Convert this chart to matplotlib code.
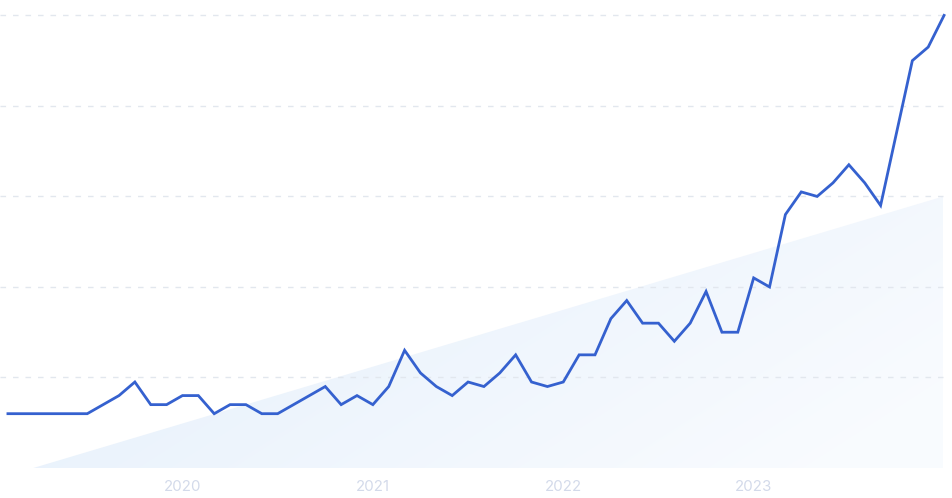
import numpy as np
import matplotlib
matplotlib.use("Agg")
import matplotlib.pyplot as plt
from matplotlib.patches import Polygon

# Monthly interest values, Feb 2019 .. Jan 2024 (scaled 0-100)
values = [12, 12, 12, 12, 12, 12, 14, 16, 19, 14, 14, 16,
          16, 12, 14, 14, 12, 12, 14, 16, 18, 14, 16, 14,
          18, 26, 21, 18, 16, 19, 18, 21, 25, 19, 18, 19,
          25, 25, 33, 37, 32, 32, 28, 32, 39, 30, 30, 42,
          40, 56, 61, 60, 63, 67, 63, 58, 74, 90, 93, 100]
tick_labels = ["2020", "2021", "2022", "2023"]
tick_index = [11, 23, 35, 47]   # January of each year
grid_levels = [20, 40, 60, 80, 100]

line_color = "#3561cf"
grid_color = "#e2e7ee"
label_color = "#d3daea"

fig = plt.figure(figsize=(9.52, 4.98), dpi=100)
ax = fig.add_axes([0, 30 / 498, 1, 468 / 498])
x = np.arange(len(values))
ax.set_xlim(-0.5, len(values) - 0.5)
ax.set_ylim(0, 103.4)

# background gradient triangle
x0, x1 = 1.6, 58.95
ytop = 60
H, W = 200, 400
gx = np.linspace(0, 1, W)[None, :]
gy = np.linspace(0, 1, H)[:, None]
t = np.clip(0.75 * gx + 0.35 * (1 - gy), 0, 1)
c0 = np.array([0.890, 0.935, 0.985])
c1 = np.array([0.975, 0.985, 0.998])
img = c0[None, None, :] * (1 - t[..., None]) + c1[None, None, :] * t[..., None]
im = ax.imshow(img, extent=[x0, x1, 0, ytop], origin="lower", aspect="auto",
               zorder=0, interpolation="bilinear")
tri = Polygon([[x0, 0], [x1, ytop], [x1, 0]], closed=True, transform=ax.transData,
              facecolor="none", edgecolor="none")
ax.add_patch(tri)
im.set_clip_path(tri)

for g in grid_levels:
    ax.plot([-0.5, 58.95], [g, g], color=grid_color, lw=1.0,
            dashes=(4, 5), zorder=1)

ax.plot(x, values, color=line_color, lw=2.0, solid_joinstyle="miter",
        zorder=3, clip_on=False)

for i, lab in zip(tick_index, tick_labels):
    ax.text(i, -4.2, lab, ha="center", va="center", fontsize=10.8,
            color=label_color, family=["Inter", "DejaVu Sans"])

for s in ax.spines.values():
    s.set_visible(False)
ax.set_xticks([])
ax.set_yticks([])
ax.patch.set_alpha(0)

fig.savefig("out.png", dpi=100, facecolor="white")
